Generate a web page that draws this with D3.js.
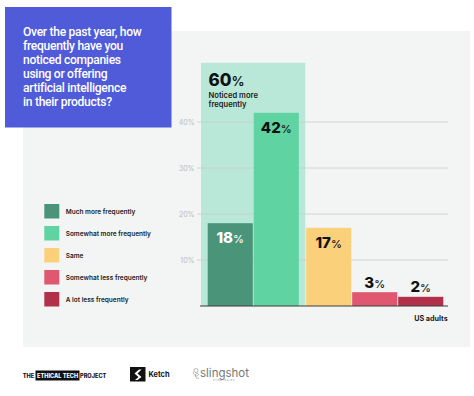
<!DOCTYPE html>
<html><head><meta charset="utf-8">
<script src="https://cdn.jsdelivr.net/npm/d3@7"></script>
<style>
html,body{margin:0;padding:0;background:#fff;}
svg{display:block;font-family:Inter,"Open Sans",sans-serif;}
</style></head>
<body><svg id="c" width="474" height="396"></svg>
<script>
const categories = ["Much more frequently","Somewhat more frequently","Same","Somewhat less frequently","A lot less frequently"];
const values = [18, 42, 17, 3, 2];
const colors = ["#4a957a","#5fd3a2","#fbd07b","#e0586f","#b2304a"];
const tickValues = [10, 20, 30, 40];
const tickLabels = ["10%","20%","30%","40%"];
const groupTotal = 60;
const groupLabel = ["Noticed more","frequently"];
const titleLines = ["Over the past year, how","frequently have you","noticed companies","using or offering","artificial intelligence","in their products?"];
const seriesLabel = "US adults";

const svg = d3.select("#c");

// background panel
svg.append("rect").attr("x",23).attr("y",31).attr("width",447).attr("height",316).attr("fill","#f3f4f4");

// scales
const y = d3.scaleLinear().domain([0,40]).range([306,122]);
const gap = 6.4;
const xb = d3.scaleBand().domain(categories).range([207.7, 443.3-gap]).paddingInner(0.02);
const xl = (c,i) => xb(c) + (i>=2 ? gap : 0);

// highlight box for "more frequently" group
const hx0 = xl(categories[0],0) - 6.7, hx1 = xl(categories[1],1) + xb.bandwidth() + 6.5;
svg.append("rect").attr("x",hx0).attr("y",y(42)-50).attr("width",hx1-hx0).attr("height",y(0)-(y(42)-50)).attr("fill","#b9e8d8");

// gridlines + tick labels
const g = svg.append("g");
tickValues.forEach((t,i)=>{
  g.append("line").attr("x1",197).attr("x2",448).attr("y1",y(t)).attr("y2",y(t)).attr("stroke","#c9cccb").attr("stroke-width",0.8);
  g.append("text").attr("x",194.5).attr("y",y(t)+2.5).attr("text-anchor","end").attr("font-size",7).attr("fill","#b9bcbb").text(tickLabels[i]);
});

// bars
svg.selectAll("rect.bar").data(values).enter().append("rect").attr("class","bar")
  .attr("x",(d,i)=>xl(categories[i],i)).attr("width",xb.bandwidth())
  .attr("y",d=>y(d)).attr("height",d=>y(0)-y(d)).attr("fill",(d,i)=>colors[i]);

// baseline
svg.append("line").attr("x1",200).attr("x2",448).attr("y1",y(0)).attr("y2",y(0)).attr("stroke","#3a3a3a").attr("stroke-width",1);

// value labels
values.forEach((v,i)=>{
  const cx = xl(categories[i],i) + xb.bandwidth()/2;
  const inside = v >= 10;
  const t = svg.append("text").attr("x",cx).attr("y", inside ? y(v)+20 : y(v)-4.5)
    .attr("text-anchor","middle").attr("fill", i===0 ? "#ffffff" : "#111");
  t.append("tspan").attr("font-size",15).attr("font-weight",800).text(v);
  t.append("tspan").attr("font-size",11).attr("font-weight",500).text("%");
});

// group total label
const gt = svg.append("text").attr("x",hx0+7.5).attr("y",85.7).attr("fill","#111");
gt.append("tspan").attr("font-size",17).attr("font-weight",800).text(groupTotal);
gt.append("tspan").attr("font-size",13).attr("font-weight",600).text("%");
groupLabel.forEach((l,i)=>{
  svg.append("text").attr("x",hx0+7.5).attr("y",97.7+i*9).attr("font-size",7.6).attr("font-weight",600).attr("fill","#222").text(l);
});

// series label
svg.append("text").attr("x",447.7).attr("y",321).attr("text-anchor","end").attr("font-size",7.2).attr("font-weight",700).attr("fill","#222").text(seriesLabel);

// legend
categories.forEach((c,i)=>{
  svg.append("rect").attr("x",44.3).attr("y",204+i*22).attr("width",15).attr("height",14.5).attr("fill",colors[i]);
  svg.append("text").attr("x",65.7).attr("y",204+i*22+10).attr("font-size",6.5).attr("font-weight",600).attr("fill","#222").text(c);
});

// title box
svg.append("rect").attr("x",5).attr("y",7).attr("width",166.5).attr("height",120.5).attr("fill","#4f5bd9");
titleLines.forEach((l,i)=>{
  svg.append("text").attr("x",23).attr("y",35.5+i*14.1).attr("font-family","Roboto, sans-serif").attr("font-size",12.1).attr("letter-spacing",-0.3).attr("font-weight",500).attr("fill","#fff").text(l);
});

// footer logos
const f = svg.append("g");
f.append("text").attr("x",22.7).attr("y",378.3).attr("font-size",5.6).attr("font-weight",800).attr("fill","#111").text("THE");
f.append("rect").attr("x",35.5).attr("y",370.5).attr("width",44).attr("height",10).attr("fill","#111");
f.append("text").attr("x",37).attr("y",378.3).attr("font-size",5.6).attr("font-weight",800).attr("fill","#fff").text("ETHICAL TECH");
f.append("text").attr("x",80).attr("y",378.3).attr("font-size",5.6).attr("font-weight",800).attr("fill","#111").text("PROJECT");
f.append("rect").attr("x",130).attr("y",367).attr("width",15.5).attr("height",14.5).attr("fill","#111");
f.append("path").attr("d","M134.5,373.5 L139,369.5 L141.5,369.5 L137.5,373.5 L141.5,377 L137.5,380 L135,380 L138.5,377 Z").attr("fill","#fff");
f.append("text").attr("x",148.5).attr("y",376.8).attr("font-size",7.4).attr("font-weight",700).attr("fill","#111").text("Ketch");
f.append("text").attr("x",200).attr("y",376.5).attr("font-size",11.5).attr("fill","#777").text("slingshot");
f.append("text").attr("x",213).attr("y",381).attr("font-size",2.4).attr("letter-spacing",0.8).attr("fill","#888").text("STRATEGIES");
f.append("circle").attr("cx",196).attr("cy",370.5).attr("r",2).attr("fill","none").attr("stroke","#888").attr("stroke-width",0.6);
f.append("path").attr("d","M193,372 C194,376 197,377 198.5,375 C199,373 196,372.5 195.5,375 C195,378 197.5,379 199,378").attr("fill","none").attr("stroke","#888").attr("stroke-width",0.6);
</script></body></html>
